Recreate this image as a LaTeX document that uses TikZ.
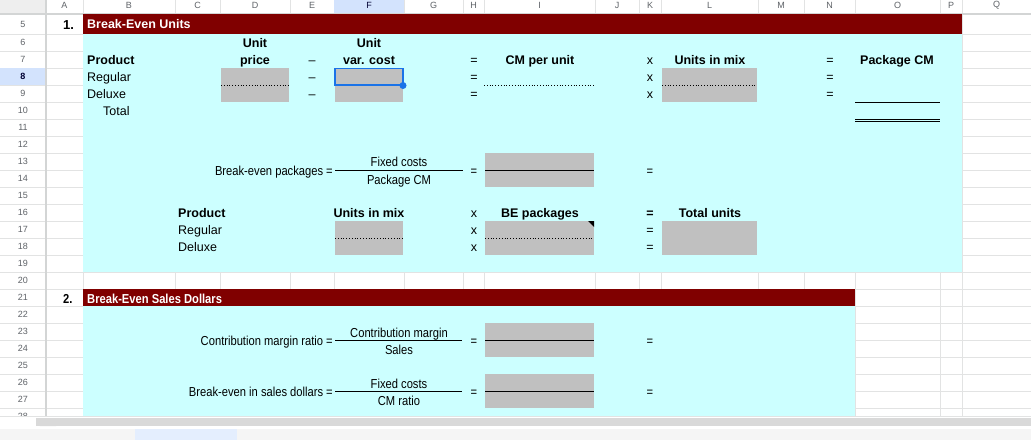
\documentclass[tikz,border=0pt]{standalone}
\usepackage{fontspec}
\setmainfont{Liberation Sans}
\newfontfamily\narrow[FakeStretch=0.86]{Liberation Sans}
\definecolor{cyanbg}{HTML}{CCFFFF}
\definecolor{darkred}{HTML}{800000}
\definecolor{cellgray}{HTML}{C0C0C0}
\definecolor{gridc}{HTML}{E2E3E3}
\definecolor{hdrtxt}{HTML}{5F6368}
\definecolor{selblue}{HTML}{1A73E8}
\definecolor{selhdr}{HTML}{D3E3FD}
\tikzset{
  txt/.style={inner sep=0pt,anchor=base,font=\fontsize{12.5}{14}\selectfont},
  txtl/.style={txt,anchor=base west},
  txtr/.style={txt,anchor=base east},
  btxt/.style={txt,font=\fontsize{12.5}{14}\selectfont\bfseries},
  btxtl/.style={btxtl0/.try,txtl,font=\fontsize{12.5}{14}\selectfont\bfseries},
  ntxt/.style={txt,font=\fontsize{13}{14}\selectfont\narrow},
  ntxtr/.style={txtr,font=\fontsize{13}{14}\selectfont\narrow},
  hdr/.style={inner sep=0pt,font=\fontsize{9}{10}\selectfont,text=hdrtxt},
  graycell/.style={fill=cellgray,draw=none},
  dotline/.style={line width=0.8pt,dotted},
}
\begin{document}
\begin{tikzpicture}[x=1pt,y=-1pt]
\useasboundingbox (0,0) rectangle (1031,440);
\fill[white] (0,0) rectangle (1031,440);
% grid
\foreach \x in {46,83,175,220,290,334,404,463,484,595,639,661,758,804,855,940,962}
  \draw[gridc,line width=0.8pt] (\x,0) -- (\x,416);
\foreach \k in {0,...,22}
  \draw[gridc,line width=0.8pt] (0,34+17*\k) -- (1031,34+17*\k);
\draw[gridc,line width=0.8pt] (0,14) -- (1031,14);
% header highlights
\fill[selhdr] (334,0) rectangle (404,14);
\fill[selhdr] (0,68) rectangle (46,85);
\fill[gridc!60] (0,0) rectangle (46,14);
\draw[gridc!150,line width=1.5pt] (0,14) -- (1031,14);
\draw[gridc!150,line width=1.5pt] (46,0) -- (46,416);
% column letters
\foreach \l/\c in {A/64.5,B/129,C/197.5,D/255,E/312,G/433.5,H/473.5,I/539.5,J/617,K/650,L/709.5,M/781,N/829.5,O/897.5,P/951,Q/996.5}
  \node[hdr] (col\l) at (\c,5) {\l};
\node[hdr,text=black!80!blue] (colF) at (369,5) {F};
% row numbers
\foreach \r in {5,...,27}{
  \pgfmathsetmacro{\yy}{\r==5 ? 24 : 42.5+(\r-6)*17}
  \ifnum\r=8
    \node[hdr,text=black!80!blue,font=\fontsize{9}{10}\selectfont\bfseries] (row\r) at (23,\yy) {\r};
  \else
    \node[hdr] (row\r) at (23,\yy) {\r};
  \fi}
\begin{scope}
\clip (0,408) rectangle (46,416);
\node[hdr] (row28) at (23,416) {28};
\end{scope}
% backgrounds
\fill[cyanbg] (83,34) rectangle (962,272);
\fill[darkred] (83,14) rectangle (962,34);
\fill[cyanbg] (83,306) rectangle (855,416);
\fill[darkred] (83,289) rectangle (855,306);
% section titles
\node[btxtl,font=\fontsize{13}{14}\selectfont\bfseries] (n1) at (63,29) {1.};
\node[btxtl,text=white] (t1) at (87,28.5) {Break-Even Units};
\node[btxtl,font=\fontsize{13}{14}\selectfont\bfseries\narrow] (n2) at (63,303) {2.};
\node[btxtl,text=white,font=\fontsize{13}{14}\selectfont\bfseries\narrow] (t2) at (87,303) {Break-Even Sales Dollars};
% section 1 headings
\node[btxt] (up1) at (255,47.5) {Unit};
\node[btxt] (up2) at (255,64.5) {price};
\node[btxt] (uv1) at (369,47.5) {Unit};
\node[btxt] (uv2) at (369,64.5) {var. cost};
\node[btxtl] (prod) at (87,64.5) {Product};
\node[txt] (m7) at (312,64.5) {--};
\node[txt] (e7) at (474,64.5) {=};
\node[btxt] (cmu) at (540,64.5) {CM per unit};
\node[txt] (x7) at (650,64.5) {x};
\node[btxt] (uim) at (710,64.5) {Units in mix};
\node[txt] (q7) at (830,64.5) {=};
\node[btxt] (pcm) at (897,64.5) {Package CM};
% cells rows 8-9
\fill[graycell] (221,68) rectangle (289,102);
\draw[dotline] (221,85) -- (289,85);
\fill[graycell] (335,68) rectangle (403,102);
\draw[selblue,line width=1.2pt] (335,68.5) rectangle (403,85);
\fill[selblue] (403,85.5) circle (3.5);
\draw[dotline] (484,85) -- (595,85);
\fill[graycell] (662,68) rectangle (757,102);
\draw[dotline] (662,85) -- (757,85);
\node[txtl] (reg) at (87,81.5) {Regular};
\node[txtl] (del) at (87,98.5) {Deluxe};
\node[txtl] (tot) at (103,115.5) {Total};
\foreach \r/\yy in {8/81.5,9/98.5}{
  \node[txt] (m\r) at (312,\yy) {--};
  \node[txt] (e\r) at (474,\yy) {=};
  \node[txt] (x\r) at (650,\yy) {x};
  \node[txt] (q\r) at (830,\yy) {=};}
\draw[line width=0.8pt] (855,102) -- (940,102);
\draw[line width=0.6pt] (855,119) -- (940,119);
\draw[line width=0.6pt] (855,121.5) -- (940,121.5);
% break-even packages
\node[ntxtr] (bep) at (333,175.5) {Break-even packages =};
\node[ntxt] (fc1) at (399,166.5) {Fixed costs};
\node[ntxt] (pc1) at (399,184.5) {Package CM};
\draw[line width=0.8pt] (335,170.5) -- (463,170.5);
\node[ntxt] (e13) at (474,175.5) {=};
\fill[graycell] (485,153) rectangle (594,187);
\draw[line width=0.8pt] (485,170.5) -- (594,170.5);
\node[ntxt] (q13) at (650,175.5) {=};
% product table
\node[btxtl] (prod2) at (178,217.5) {Product};
\node[btxt] (uim2) at (369,217.5) {Units in mix};
\node[txt] (x16) at (474,217.5) {x};
\node[btxt] (bep2) at (540,217.5) {BE packages};
\node[btxt] (e16) at (650,217.5) {=};
\node[btxt] (tu) at (710,217.5) {Total units};
\node[txtl] (reg2) at (178,234.5) {Regular};
\node[txtl] (del2) at (178,251.5) {Deluxe};
\fill[graycell] (335,221) rectangle (403,255);
\draw[dotline] (335,238) -- (403,238);
\fill[graycell] (485,221) rectangle (594,255);
\draw[dotline] (485,238) -- (594,238);
\fill[black] (594,221) -- (588,221) -- (594,227) -- cycle;
\fill[graycell] (662,221) rectangle (757,255);
\foreach \r/\yy in {17/234.5,18/251.5}{
  \node[txt] (xx\r) at (474,\yy) {x};
  \node[txt] (ee\r) at (650,\yy) {=};}
% section 2
\node[ntxtr] (cmr) at (333,345.5) {Contribution margin ratio =};
\node[ntxt] (cm) at (399,337) {Contribution margin};
\node[ntxt] (sl) at (399,354.5) {Sales};
\draw[line width=0.8pt] (335,340.5) -- (462,340.5);
\node[ntxt] (e23) at (474,345.5) {=};
\fill[graycell] (485,323) rectangle (594,357);
\draw[line width=0.8pt] (485,340.5) -- (594,340.5);
\node[ntxt] (q23) at (650,345.5) {=};
\node[ntxtr] (besd) at (333,396.5) {Break-even in sales dollars =};
\node[ntxt] (fc2) at (399,388) {Fixed costs};
\node[ntxt] (cmrt) at (399,405.5) {CM ratio};
\draw[line width=0.8pt] (335,391.5) -- (462,391.5);
\node[ntxt] (e26) at (474,396.5) {=};
\fill[graycell] (485,374) rectangle (594,408);
\draw[line width=0.8pt] (485,391.5) -- (594,391.5);
\node[ntxt] (q26) at (650,396.5) {=};
% scrollbar and footer
\fill[white] (0,416) rectangle (1031,428);
\draw[gridc] (0,416) -- (1031,416);
\fill[gray!30] (36,418) rectangle (1031,426);
\fill[gray!30,rounded corners=4pt] (36,418) rectangle (60,426);
\fill[gray!8] (0,429) rectangle (1031,440);
\fill[selhdr!60] (135,429) rectangle (237,440);
\end{tikzpicture}
\end{document}
